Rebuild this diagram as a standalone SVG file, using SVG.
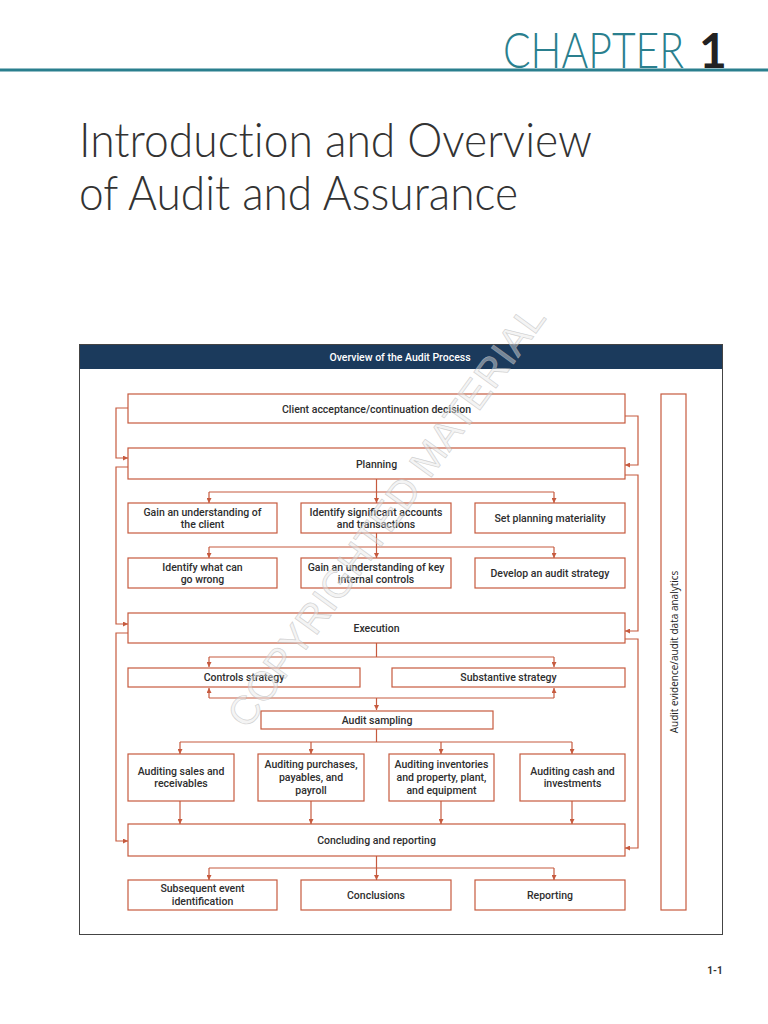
<svg xmlns="http://www.w3.org/2000/svg" width="768" height="1024" viewBox="0 0 768 1024">
<style>
  .box{fill:#fff;stroke:#c65a3e;stroke-width:1.2}
  .lbl{font-family:Roboto,"Liberation Sans",sans-serif;font-size:10.5px;font-weight:500;fill:#2e2e2e;text-anchor:middle;dominant-baseline:central}
  .con{fill:none;stroke:#c65a3e;stroke-width:1.2}
  .arr{fill:none;stroke:#c65a3e;stroke-width:1.2;marker-end:url(#ah)}
</style>
<defs>
  <marker id="ah" viewBox="0 0 6 6" refX="6" refY="3" markerWidth="5" markerHeight="5" markerUnits="userSpaceOnUse" orient="auto">
    <path d="M0,0 L6,3 L0,6 z" fill="#c65a3e"/>
  </marker>
</defs>
<rect width="768" height="1024" fill="#fff"/>
<g id="header">
  <line x1="0" y1="70" x2="768" y2="70" stroke="#2a7f8e" stroke-width="3"/>
  <text transform="translate(503,68) scale(0.85,1)" x="0" y="0" font-family="Lato,'Open Sans',sans-serif" font-weight="300" font-size="49" fill="#2a7f8e" textLength="213" lengthAdjust="spacingAndGlyphs">CHAPTER</text>
  <text x="699" y="68" font-family="Lato,'Open Sans',sans-serif" font-weight="700" font-size="48" fill="#222">1</text>
</g>
<g id="title" font-family="Lato,'Open Sans',sans-serif" font-weight="300" font-size="48" fill="#333" style="font-variant-ligatures:none">
  <text x="79" y="157" textLength="513" lengthAdjust="spacingAndGlyphs">Introduction and Overview</text>
  <text x="79" y="210" textLength="439" lengthAdjust="spacingAndGlyphs">of Audit and Assurance</text>
</g>
<g id="frame">
  <rect x="79.5" y="344.5" width="643" height="590" fill="#fff" stroke="#444" stroke-width="1"/>
  <rect x="80" y="345" width="642" height="24" fill="#1b3a5c"/>
  <text x="400" y="357" font-family="Roboto,'Liberation Sans',sans-serif" font-size="10.5" font-weight="500" fill="#fff" text-anchor="middle" dominant-baseline="central">Overview of the Audit Process</text>
</g>
<g id="connectors">
  <path class="arr" d="M128,408 H116 V458 H128"/>
  <path class="arr" d="M625,416 H638 V465 H625"/>
  <path class="arr" d="M128,467 H116 V624 H128"/>
  <path class="arr" d="M625,475 H638 V631 H625"/>
  <path class="arr" d="M128,633 H116 V841 H128"/>
  <path class="arr" d="M625,639 H638 V848 H625"/>
  <path class="con" d="M376.5,479 V492 M209,492 H554"/>
  <path class="arr" d="M209,492 V503"/><path class="arr" d="M376.5,492 V503"/><path class="arr" d="M554,492 V503"/>
  <path class="con" d="M376.5,533 V547 M209,547 H554"/>
  <path class="arr" d="M209,547 V558"/><path class="arr" d="M376.5,547 V558"/><path class="arr" d="M554,547 V558"/>
  <path class="con" d="M376.5,643 V657 M209,657 H554"/>
  <path class="arr" d="M209,657 V667"/><path class="arr" d="M554,657 V667"/>
  <path class="con" d="M209,698 H554"/>
  <path class="arr" d="M209,698 V688"/><path class="arr" d="M554,698 V688"/><path class="arr" d="M376.5,698 V710"/>
  <path class="con" d="M376.5,729 V742 M180,742 H572"/>
  <path class="arr" d="M180,742 V754"/><path class="arr" d="M311,742 V754"/><path class="arr" d="M441,742 V754"/><path class="arr" d="M572,742 V754"/>
  <path class="arr" d="M180,801 V824"/><path class="arr" d="M311,801 V824"/><path class="arr" d="M441,801 V824"/><path class="arr" d="M572,801 V824"/>
  <path class="con" d="M376.5,856 V868 M209,868 H554"/>
  <path class="arr" d="M209,868 V880"/><path class="arr" d="M376.5,868 V880"/><path class="arr" d="M554,868 V880"/>
</g>
<g id="n-client"><rect class="box" x="128" y="394" width="497" height="29"/><text class="lbl" x="376.5" y="409">Client acceptance/continuation decision</text></g>
<g id="n-planning"><rect class="box" x="128" y="448" width="497" height="31"/><text class="lbl" x="376.5" y="464">Planning</text></g>
<g id="n-understand-client"><rect class="box" x="128" y="503" width="149" height="30"/><text class="lbl" x="202.5" y="512">Gain an understanding of</text><text class="lbl" x="202.5" y="524.5">the client</text></g>
<g id="n-sig-accounts"><rect class="box" x="301" y="503" width="150" height="30"/><text class="lbl" x="376" y="512">Identify significant accounts</text><text class="lbl" x="376" y="524.5">and transactions</text></g>
<g id="n-materiality"><rect class="box" x="475" y="503" width="150" height="30"/><text class="lbl" x="550" y="518">Set planning materiality</text></g>
<g id="n-wrong"><rect class="box" x="128" y="558" width="149" height="30"/><text class="lbl" x="202.5" y="567">Identify what can</text><text class="lbl" x="202.5" y="579.5">go wrong</text></g>
<g id="n-controls"><rect class="box" x="301" y="558" width="150" height="30"/><text class="lbl" x="376" y="567">Gain an understanding of key</text><text class="lbl" x="376" y="579.5">internal controls</text></g>
<g id="n-strategy"><rect class="box" x="475" y="558" width="150" height="30"/><text class="lbl" x="550" y="573">Develop an audit strategy</text></g>
<g id="n-execution"><rect class="box" x="128" y="613" width="497" height="30"/><text class="lbl" x="376.5" y="628">Execution</text></g>
<g id="n-controls-strategy"><rect class="box" x="128" y="668" width="232" height="19"/><text class="lbl" x="244" y="677.5">Controls strategy</text></g>
<g id="n-substantive-strategy"><rect class="box" x="392" y="668" width="233" height="19"/><text class="lbl" x="508.5" y="677.5">Substantive strategy</text></g>
<g id="n-sampling"><rect class="box" x="261" y="711" width="232" height="18"/><text class="lbl" x="377" y="720">Audit sampling</text></g>
<g id="n-sales"><rect class="box" x="128" y="754" width="106" height="47"/><text class="lbl" x="181" y="771">Auditing sales and</text><text class="lbl" x="181" y="783.5">receivables</text></g>
<g id="n-purchases"><rect class="box" x="258" y="754" width="106" height="47"/><text class="lbl" x="311" y="764.5">Auditing purchases,</text><text class="lbl" x="311" y="777.5">payables, and</text><text class="lbl" x="311" y="790.5">payroll</text></g>
<g id="n-inventories"><rect class="box" x="389" y="754" width="105" height="47"/><text class="lbl" x="441.5" y="764.5">Auditing inventories</text><text class="lbl" x="441.5" y="777.5">and property, plant,</text><text class="lbl" x="441.5" y="790.5">and equipment</text></g>
<g id="n-cash"><rect class="box" x="520" y="754" width="105" height="47"/><text class="lbl" x="572.5" y="771">Auditing cash and</text><text class="lbl" x="572.5" y="783.5">investments</text></g>
<g id="n-concluding"><rect class="box" x="128" y="824" width="497" height="32"/><text class="lbl" x="376.5" y="840">Concluding and reporting</text></g>
<g id="n-subsequent"><rect class="box" x="128" y="880" width="149" height="30"/><text class="lbl" x="202.5" y="888.5">Subsequent event</text><text class="lbl" x="202.5" y="901.5">identification</text></g>
<g id="n-conclusions"><rect class="box" x="301" y="880" width="150" height="30"/><text class="lbl" x="376" y="895">Conclusions</text></g>
<g id="n-reporting"><rect class="box" x="475" y="880" width="150" height="30"/><text class="lbl" x="550" y="895">Reporting</text></g>
<g id="n-evidence"><rect class="box" x="661" y="394" width="25" height="516"/><text x="673.5" y="652" transform="rotate(-90 673.5 652)" font-family="'Open Sans','Noto Sans',sans-serif" font-size="10" font-weight="500" fill="#222" text-anchor="middle" dominant-baseline="central">Audit evidence/audit data analytics</text></g>
<g id="watermark"><text x="386" y="516" transform="rotate(-54 386 516)" font-family="'Liberation Sans',sans-serif" font-size="40" fill="#e8e8e8" fill-opacity="0.45" stroke="#b8b8b8" stroke-opacity="0.6" stroke-width="0.7" text-anchor="middle" dominant-baseline="central" textLength="510" lengthAdjust="spacingAndGlyphs">COPYRIGHTED MATERIAL</text></g>
<g id="page-number"><text x="715" y="970" font-family="Roboto,'Liberation Sans',sans-serif" font-size="10" font-weight="700" fill="#333" text-anchor="middle" dominant-baseline="central">1-1</text></g>
</svg>
